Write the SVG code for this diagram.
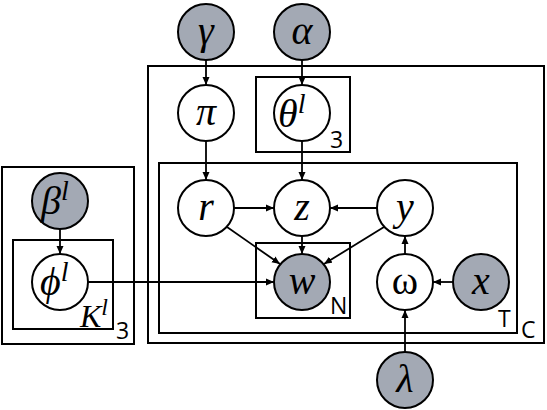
<svg xmlns="http://www.w3.org/2000/svg" width="547" height="410" viewBox="0 0 547 410">
<defs>
<marker id="arr" viewBox="0 0 8 8" refX="8" refY="4" markerWidth="8" markerHeight="8" markerUnits="userSpaceOnUse" orient="auto">
<path d="M0,0.5 L8,4 L0,7.5 Z" fill="#000"/>
</marker>
</defs>
<style>
.plate{fill:none;stroke:#000;stroke-width:2}
.obs{fill:#a3a9b4;stroke:#000;stroke-width:2}
.lat{fill:#fff;stroke:#000;stroke-width:2}
.m{font-family:"Liberation Serif","DejaVu Serif",serif;font-style:italic;font-size:40px;fill:#000}
.sup{font-size:28px}
.up{font-family:"Liberation Serif","DejaVu Serif",serif;font-size:40px;fill:#000}
.lbl{font-family:"Open Sans","Liberation Sans",sans-serif;font-size:23px;fill:#000}
.e{stroke:#000;stroke-width:1.8;fill:none;marker-end:url(#arr)}
</style>
<rect width="547" height="410" fill="#fff"/>
<g id="plates">
<rect id="plate-C" class="plate" x="148" y="66" width="396" height="277"/>
<rect id="plate-T" class="plate" x="159" y="163" width="358" height="170"/>
<rect id="plate-theta" class="plate" x="256" y="77" width="94" height="75"/>
<rect id="plate-N" class="plate" x="256" y="243" width="94" height="75"/>
<rect id="plate-3L" class="plate" x="2" y="167" width="132" height="177"/>
<rect id="plate-K" class="plate" x="13" y="240" width="100" height="89"/>
<text class="lbl" x="330" y="148">3</text>
<text class="lbl" x="330" y="314">N</text>
<text class="lbl" x="498" y="327">T</text>
<text class="lbl" x="521" y="338">C</text>
<text class="lbl" x="116" y="339">3</text>
<text class="m" x="80" y="327" style="font-size:32px">K<tspan dy="-12" style="font-size:24px">l</tspan></text>
</g>
<g id="connectors">
<line class="e" x1="206" y1="60" x2="206" y2="85"/>
<line class="e" x1="302" y1="60" x2="302" y2="85"/>
<line class="e" x1="206" y1="141" x2="206" y2="180"/>
<line class="e" x1="302" y1="141" x2="302" y2="180"/>
<line class="e" x1="234" y1="208" x2="274" y2="208"/>
<line class="e" x1="377" y1="208" x2="330" y2="208"/>
<line class="e" x1="227" y1="227" x2="280" y2="264"/>
<line class="e" x1="302" y1="236" x2="302" y2="254"/>
<line class="e" x1="384" y1="227" x2="324" y2="264"/>
<line class="e" x1="88" y1="282" x2="274" y2="282"/>
<line class="e" x1="405" y1="254" x2="405" y2="236"/>
<line class="e" x1="453" y1="282" x2="433" y2="282"/>
<line class="e" x1="405" y1="352" x2="405" y2="310"/>
<line class="e" x1="60" y1="229" x2="60" y2="254"/>
</g>
<g id="node-gamma"><circle class="obs" cx="206" cy="32" r="28"/><text class="m" x="206" y="44" text-anchor="middle">γ</text></g>
<g id="node-alpha"><circle class="obs" cx="302" cy="32" r="28"/><text class="m" x="302" y="44" text-anchor="middle">α</text></g>
<g id="node-pi"><circle class="lat" cx="206" cy="113" r="28"/><text class="m" x="206" y="125" text-anchor="middle">π</text></g>
<g id="node-theta"><circle class="lat" cx="302" cy="113" r="28"/><text class="m" x="278" y="127">θ<tspan class="sup" dy="-14">l</tspan></text></g>
<g id="node-r"><circle class="lat" cx="206" cy="208" r="28"/><text class="m" x="206" y="220" text-anchor="middle">r</text></g>
<g id="node-z"><circle class="lat" cx="302" cy="208" r="28"/><text class="m" x="302" y="220" text-anchor="middle">z</text></g>
<g id="node-y"><circle class="lat" cx="405" cy="208" r="28"/><text class="m" x="405" y="220" text-anchor="middle">y</text></g>
<g id="node-w"><circle class="obs" cx="302" cy="282" r="28"/><text class="m" x="302" y="294" text-anchor="middle">w</text></g>
<g id="node-omega"><circle class="lat" cx="405" cy="282" r="28"/><text class="up" x="405" y="294" text-anchor="middle">ω</text></g>
<g id="node-x"><circle class="obs" cx="481" cy="282" r="28"/><text class="m" x="481" y="294" text-anchor="middle">x</text></g>
<g id="node-lambda"><circle class="obs" cx="405" cy="380" r="28"/><text class="m" x="405" y="392" text-anchor="middle">λ</text></g>
<g id="node-beta"><circle class="obs" cx="60" cy="201" r="28"/><text class="m" x="41" y="214">β<tspan class="sup" dy="-14">l</tspan></text></g>
<g id="node-phi"><circle class="lat" cx="60" cy="282" r="28"/><text class="m" x="40" y="295">ϕ<tspan class="sup" dy="-14">l</tspan></text></g>
</svg>
